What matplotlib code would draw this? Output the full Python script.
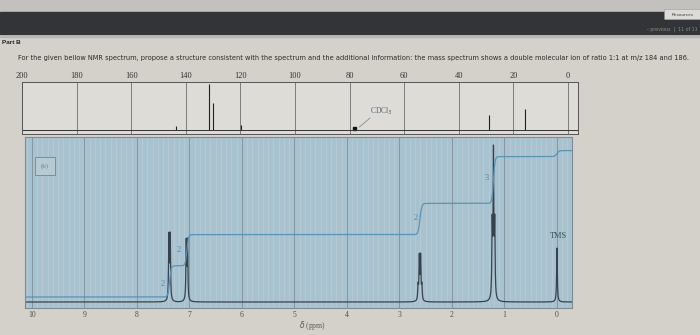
import numpy as np
import matplotlib
matplotlib.use("Agg")
import matplotlib.pyplot as plt
from matplotlib.patches import Rectangle, FancyBboxPatch
from math import comb

W, H = 700, 335

# 13C spectrum (top strip)
C_SHIFTS = [143.6, 131.6, 130.2, 119.6, 28.8, 15.8]
C_HEIGHTS = [4, 46, 27, 5, 15, 21]
C_TICKS = [200, 180, 160, 140, 120, 100, 80, 60, 40, 20, 0]
CDCL3_SHIFT = 77

# 1H spectrum
H_CENTERS = [7.38, 7.05, 2.61, 1.21, 0.0]
H_HEIGHTS = [70, 64, 49, 157, 54]
H_MULT = [2, 2, 4, 3, 1]
INTEGRALS = [2, 2, 2, 3]
INT_BASE = 5
INT_UNIT = 15.6
TMS_STEP = 6
H_TICKS = list(range(0, 11))
INT_LABELS = ["2", "2", "2", "3"]
INT_LABEL_X = [7.51, 7.20, 2.70, 1.33]
INT_LABEL_Y = [18, 52, 84, 124]

QUESTION = ("For the given bellow NMR spectrum, propose a structure consistent with the spectrum "
            "and the additional information: the mass spectrum shows a double molecular ion of "
            "ratio 1:1 at m/z 184 and 186.")


def fx(x):
    return x / W


def fy(y):
    return 1 - y / H


def box(x0, y0, x1, y1):
    return [fx(x0), fy(y1), fx(x1) - fx(x0), fy(y0) - fy(y1)]


def multiplet(x, center, height, n, j=0.024, w=0.008):
    offs = (np.arange(n) - (n - 1) / 2) * j
    y = np.zeros_like(x)
    for k, o in enumerate(offs):
        y += comb(n - 1, k) * w ** 2 / ((x - center - o) ** 2 + w ** 2)
    return y / y.max() * height


fig = plt.figure(figsize=(7, 3.35), dpi=100)
fig.patch.set_facecolor("#d4d1cb")

# screen header
fig.patches.append(Rectangle((0, fy(12)), 1, 12 / H, transform=fig.transFigure, color="#c2c1be"))
fig.patches.append(Rectangle((0, fy(34)), 1, 22 / H, transform=fig.transFigure, color="#323438"))
fig.patches.append(Rectangle((0, fy(37)), 1, 1 / H, transform=fig.transFigure, color="#b9b7b2"))
fig.patches.append(FancyBboxPatch((fx(666), fy(19)), fx(34), 9 / H, boxstyle="round,pad=0.002",
                                  transform=fig.transFigure, fc="#dcdbd8", ec="#9a9a9a", lw=0.4))
fig.text(fx(683), fy(14.5), "Resources", fontsize=3.2, ha="center", va="center", color="#444")
fig.text(fx(698), fy(29), "\u2039 previous  |  11 of 11", fontsize=3.4, ha="right", va="center",
         color="#8a8a8a")
fig.text(fx(2), fy(43), "Part B", fontsize=4.6, weight="bold", va="center", color="#222",
         family="Liberation Sans")
fig.text(fx(18), fy(58), QUESTION, fontsize=4.8, va="center", color="#2a2a2a",
         family="Liberation Sans Narrow")

# 13C strip
axc = fig.add_axes(box(22, 82, 578, 134))
axc.set_facecolor("#dedcd7")
axc.set_xlim(200, -3.7)
axc.set_ylim(-4, 48)
axc.vlines(C_SHIFTS, 0, C_HEIGHTS, color="#222", lw=0.8)
axc.axhline(0, color="#333", lw=0.7)
axc.add_patch(Rectangle((CDCL3_SHIFT + 0.6, 0), 1.2, 3, color="#111"))
axc.plot([CDCL3_SHIFT - 0.6, CDCL3_SHIFT - 4.5], [3, 12], color="#6d7f8c", lw=0.5)
axc.text(CDCL3_SHIFT - 4.5, 13, r"CDCl$_3$", fontsize=5.5, family="Liberation Serif",
         color="#556677", va="bottom")
axc.set_xticks(C_TICKS)
axc.xaxis.tick_top()
axc.tick_params(axis="x", length=0, pad=1.5, labelsize=6, labelcolor="#333")
for lab in axc.get_xticklabels():
    lab.set_family("Liberation Serif")
axc.set_yticks([])
axc.xaxis.grid(True, color="#6e6e6e", lw=0.6)
axc.set_axisbelow(True)
for s in axc.spines.values():
    s.set_color("#555")
    s.set_linewidth(0.7)

# 1H spectrum
axh = fig.add_axes(box(25, 137, 572, 308))
axh.set_facecolor("#a9c2cf")
axh.set_xlim(10.133, -0.286)
axh.set_ylim(-6, 165)
x = np.linspace(10.133, -0.286, 9000)
spec = np.zeros_like(x)
for c, h, n in zip(H_CENTERS, H_HEIGHTS, H_MULT):
    spec = np.maximum(spec, multiplet(x, c, h, n))
axh.plot(x, spec, color="#36434d", lw=0.9)

steps = [i * INT_UNIT for i in INTEGRALS] + [TMS_STEP]
widths = [0.03, 0.03, 0.035, 0.03, 0.04]
integ = np.full_like(x, INT_BASE, dtype=float)
for c, s, w in zip(H_CENTERS, steps, widths):
    integ += s * 0.5 * (1 + np.tanh((c - x) / w))
axh.plot(x, integ, color="#5a93b6", lw=0.9)

for t, px, py in zip(INT_LABELS, INT_LABEL_X, INT_LABEL_Y):
    axh.text(px, py, t, fontsize=6, color="#4f86a8", ha="center", va="center",
             family="Liberation Serif")
axh.text(-0.02, 66, "TMS", fontsize=6, color="#3d4a55", ha="center", va="center",
         family="Liberation Serif")
axh.text(0.037, 0.83, "(b)", transform=axh.transAxes, fontsize=5, color="#6f7f88",
         ha="center", va="center", family="Liberation Serif",
         bbox=dict(boxstyle="square,pad=0.9", fc="#b6cad4", ec="#7e8c94", lw=0.7))

axh.set_xticks(H_TICKS)
axh.set_xticks(np.arange(-0.2, 10.15, 0.1), minor=True)
axh.tick_params(axis="x", which="both", length=0, pad=2.5, labelsize=5.5, labelcolor="#4d4d4d")
for lab in axh.get_xticklabels():
    lab.set_family("Liberation Serif")
axh.set_yticks([])
axh.xaxis.grid(True, which="major", color="#8596a0", lw=0.7)
axh.xaxis.grid(True, which="minor", color="#bccdd6", lw=0.5)
axh.set_axisbelow(True)
for s in axh.spines.values():
    s.set_color("#7c8d97")
    s.set_linewidth(0.8)

fig.text(fx(312), fy(326), r"$\delta$ (ppm)", fontsize=5.5, ha="center", va="center",
         color="#555", family="Liberation Serif")

fig.savefig("out.png", dpi=100, facecolor=fig.get_facecolor())
